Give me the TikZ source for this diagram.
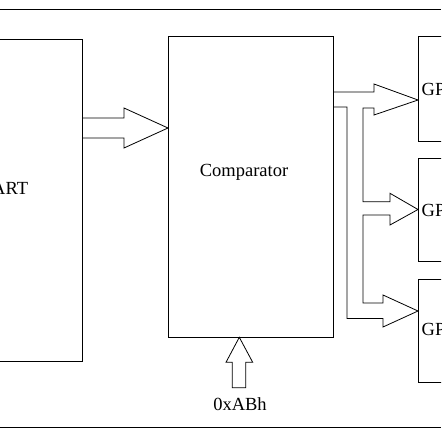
\documentclass[tikz,border=0pt]{standalone}
\usepackage{fontspec}
\setmainfont{Liberation Serif}
\begin{document}
\begin{tikzpicture}[x=1pt,y=-1pt,
  box/.style={draw, line width=1pt, inner sep=0pt, outer sep=0pt},
  lbl/.style={font=\fontsize{18.5}{20}\selectfont, inner sep=0pt},
  blk/.style={draw, line width=0.8pt, line join=miter},
  rule/.style={draw, line width=1pt}]
\useasboundingbox (0,0) rectangle (441,441);
\clip (0,0) rectangle (441,441);
% frame lines
\coordinate (tl) at (0,10);
\coordinate (tr) at (441,10);
\coordinate (bl) at (0,427);
\coordinate (br) at (441,427);
\draw[rule] (tl) -- (tr);
\draw[rule] (bl) -- (br);
% boxes
\node[box, minimum width=162pt, minimum height=321pt] (uart) at (1,200.5) {};
\node[box, minimum width=165pt, minimum height=300pt] (cmp) at (250.5,187) {};
\node[box, minimum width=102pt, minimum height=104pt] (g1) at (469,89) {};
\node[box, minimum width=102pt, minimum height=103pt] (g2) at (469,209.5) {};
\node[box, minimum width=102pt, minimum height=103pt] (g3) at (469,330.5) {};
% labels
\node[lbl, anchor=base] (tuart) at (3.5,194) {UART};
\node[lbl, anchor=base] (tcmp) at (244,176.7) {Comparator};
\node[lbl, anchor=base west] (tg1) at (421.5,95.7) {GPIO};
\node[lbl, anchor=base west] (tg2) at (421.5,216.5) {GPIO};
\node[lbl, anchor=base west] (tg3) at (421.5,335) {GPIO};
\node[lbl, anchor=base] (tin) at (240,410) {0xABh};
% UART -> Comparator block arrow
\draw[blk] (82,118) -- (124,118) -- (124,108) -- (168,128) -- (124,148) -- (124,138) -- (82,138);
% bus to GPIOs
\draw[blk] (333,92) -- (374,92) -- (374,84) -- (418,100) -- (374,115) -- (374,108)
  -- (363,108) -- (363,201.7) -- (390,201.7) -- (390,193.3) -- (418,209.5) -- (390,225) -- (390,215)
  -- (363,215) -- (363,303) -- (383,303) -- (383,295) -- (418,311) -- (383,327) -- (383,318.5)
  -- (347,318.5) -- (347,107) -- (333,107);
% input arrow
\draw[blk] (232.3,387.7) -- (232.3,362.3) -- (226,362.3) -- (239.3,337.3) -- (252.7,362.3)
  -- (245.7,362.3) -- (245.7,387.7) -- cycle;
\end{tikzpicture}
\end{document}
